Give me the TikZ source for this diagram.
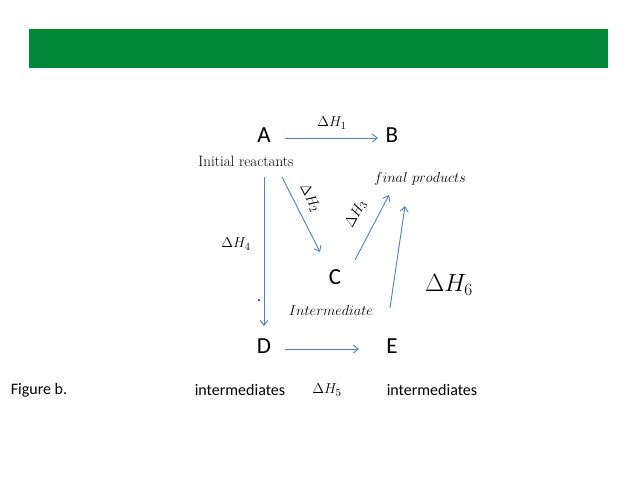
\documentclass[tikz,border=0pt]{standalone}
\usepackage{fontspec}
\setsansfont{Carlito}
\usetikzlibrary{arrows.meta}
\definecolor{gbar}{RGB}{0,137,54}
\definecolor{arr}{RGB}{79,129,189}
\tikzset{
 big/.style={font=\sffamily\fontsize{23}{23}\selectfont},
 lab/.style={font=\fontsize{15}{15}\selectfont},
 small/.style={font=\sffamily\fontsize{16}{16}\selectfont},
 conn/.style={draw=arr,line width=0.9pt,-{Straight Barb[length=5pt,width=8pt]}}
}
\begin{document}
\begin{tikzpicture}[x=1pt,y=-1pt]
\useasboundingbox (0,0) rectangle (638,493);
\fill[gbar] (29,29) rectangle (608,68);
\node[big] (A) at (264,135) {A};
\node[big] (B) at (392,135) {B};
\node[big] (C) at (335,277) {C};
\node[big] (D) at (264,346) {D};
\node[big] (E) at (392,346) {E};
\node[lab] (ir) at (246,161) {Initial reactants};
\node[lab] (fp) at (420,179) {$final\ products$};
\node[lab] (im) at (331,310) {$Intermediate$};
\node[lab] (h1) at (332,123) {$\Delta H_1$};
\node[lab,rotate=-63,inner sep=1pt] (h2) at (310,198) {$\Delta H_2$};
\node[lab,rotate=62,inner sep=1pt] (h3) at (356,214) {$\Delta H_3$};
\node[lab] (h4) at (236,244) {$\Delta H_4$};
\node[font=\fontsize{25}{25}\selectfont] (h6) at (449,285) {$\Delta H_6$};
\node[small] (fb) at (39,390) {Figure b.};
\node[small] (i1) at (240,390) {intermediates};
\node[lab] (h5) at (327,390) {$\Delta H_5$};
\node[small] (i2) at (432,390) {intermediates};
\fill (259,300) circle (1pt);
\coordinate (a1) at (285,138); \coordinate (b1) at (378,138);
\coordinate (a2) at (282,177); \coordinate (c2) at (320,252);
\coordinate (c3) at (355,260); \coordinate (f3) at (389,195);
\coordinate (e6) at (390,308); \coordinate (f6) at (405,206);
\coordinate (a4) at (264,177); \coordinate (d4) at (264,326);
\coordinate (d5) at (285,349); \coordinate (e5) at (359,349);
\draw[conn] (a1) -- (b1);
\draw[conn] (a2) -- (c2);
\draw[conn] (c3) -- (f3);
\draw[conn] (e6) -- (f6);
\draw[conn] (a4) -- (d4);
\draw[conn] (d5) -- (e5);
\end{tikzpicture}
\end{document}
